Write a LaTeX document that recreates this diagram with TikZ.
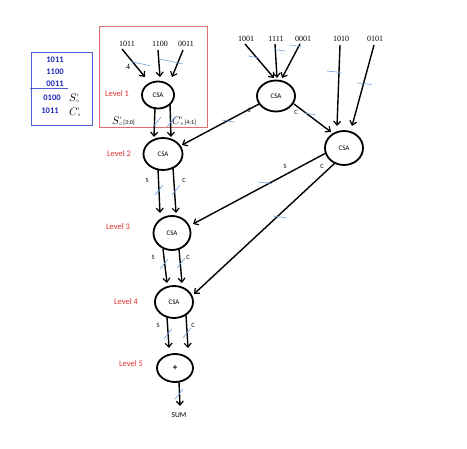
\documentclass[tikz,border=0pt]{standalone}
\usepackage{fontspec}
\setmainfont{Liberation Serif}
\newfontfamily\calfont{Carlito}
\usetikzlibrary{arrows.meta,calc,shapes.geometric}
\definecolor{lvlred}{RGB}{228,50,50}
\definecolor{boxred}{RGB}{226,110,110}
\definecolor{boxblue}{RGB}{80,95,215}
\definecolor{numblue}{RGB}{30,40,185}
\definecolor{busblue}{RGB}{110,160,225}
\newcommand{\tinysc}[1]{{\fontsize{4}{4}\selectfont #1}}
\begin{document}
\begin{tikzpicture}[x=1pt,y=-1pt,
  csa/.style={draw,ellipse,line width=1.8pt,inner sep=0pt,font=\calfont\fontsize{7}{7}\selectfont},
  num/.style={font=\fontsize{8}{8}\selectfont,inner sep=0pt},
  bnum/.style={font=\calfont\bfseries\fontsize{8.5}{9}\selectfont,text=numblue,inner sep=0pt},
  sym/.style={font=\fontsize{11}{11}\selectfont,inner sep=0pt,anchor=base west},
  arr/.style={line width=1.4pt,-{Straight Barb[length=4pt,width=7pt,line width=1.2pt]}},
  lbl/.style={font=\calfont\fontsize{6.5}{7}\selectfont,inner sep=0pt},
  lvl/.style={font=\calfont\fontsize{8.5}{9}\selectfont,text=lvlred,inner sep=0pt},
  bus/.style={draw=busblue,line width=0.6pt},
]
\useasboundingbox[fill=white] (0,0) rectangle (467,449);

% boxes
\draw[boxred,line width=0.7pt] (99,26) rectangle (207,127);
\draw[boxblue,line width=0.7pt] (31,52) rectangle (92,125);
\draw[boxblue,line width=0.7pt] (30,88) -- (68,88);

% blue box contents
\node[bnum] (b1) at (55,60) {1011};
\node[bnum] (b2) at (55,72) {1100};
\node[bnum] (b3) at (55,84) {0011};
\node[bnum] (b4) at (52,98) {0100};
\node[bnum] (b5) at (50,111) {1011};
\node[sym] (bs) at (69,101.5) {$S$\raisebox{5pt}{\tinysc{1}}\kern-2pt\raisebox{-1pt}{\tinysc{0}}};
\node[sym] (bc) at (69,116) {$C$\raisebox{5pt}{\tinysc{1}}\kern-2pt\raisebox{-1pt}{\tinysc{0}}};

% CSA nodes
\node[csa,minimum width=32pt,minimum height=27pt] (csa1) at (158,95) {CSA};
\node[csa,minimum width=38pt,minimum height=31pt] (csa2) at (276,96) {CSA};
\node[csa,minimum width=38pt,minimum height=34pt] (csa3) at (344,148) {CSA};
\node[csa,minimum width=39pt,minimum height=32pt] (csa4) at (163,154) {CSA};
\node[csa,minimum width=37pt,minimum height=34pt] (csa5) at (172,233) {CSA};
\node[csa,minimum width=38pt,minimum height=32pt] (csa6) at (174,302) {CSA};
\node[csa,minimum width=36pt,minimum height=28pt,font=\calfont\bfseries\fontsize{9}{9}\selectfont] (plus) at (175,368) {+};
\node[font=\calfont\fontsize{7.5}{8}\selectfont,inner sep=0pt] (sum) at (179,415) {SUM};

% inputs
\node[num] (i1) at (127,44) {1011};
\node[num] (i2) at (160,44) {1100};
\node[num] (i3) at (186,44) {0011};
\node[num] (i4) at (246,39) {1001};
\node[num] (i5) at (276,39) {1111};
\node[num] (i6) at (303,39) {0001};
\node[num] (i7) at (341,39) {1010};
\node[num] (i8) at (375,39) {0101};
\node[num] (w4) at (128,67) {4};

% level labels
\node[lvl] (l1) at (117,94) {Level 1};
\node[lvl] (l2) at (119,154) {Level 2};
\node[lvl] (l3) at (118,227) {Level 3};
\node[lvl] (l4) at (126,302) {Level 4};
\node[lvl] (l5) at (131,364) {Level 5};

% S C labels under CSA1
\node[sym] (s01) at (112,125) {$S$\raisebox{5pt}{\tinysc{1}}\kern-2pt\raisebox{-1pt}{\tinysc{0}}\,{\calfont\fontsize{6}{6}\selectfont[3:0]}};
\node[sym] (c01) at (172,125) {$C$\raisebox{5pt}{\tinysc{1}}\kern-2pt\raisebox{-1pt}{\tinysc{0}}\,{\calfont\fontsize{6}{6}\selectfont[4:1]}};

% arrows into CSA1
\draw[arr] ($(i1)+(-5,5)$) -- ($(csa1)+(-13,-18)$);
\draw[arr] ($(i2)+(-2,6)$) -- ($(csa1)+(2,-18)$);
\draw[arr] ($(i3)+(-3,6)$) -- ($(csa1)+(14,-18)$);
% CSA1 -> CSA4
\draw[arr] ($(csa1)+(-3,12)$) -- ($(csa4)+(-9,-17)$);
\draw[arr] ($(csa1)+(12,9)$) -- ($(csa4)+(8,-17)$);
% into CSA2
\draw[arr] ($(i4)+(-1,5)$) -- ($(csa2)+(-2,-18)$);
\draw[arr] ($(i5)+(-1,5)$) -- ($(csa2)+(1,-18)$);
\draw[arr] ($(i6)+(-3,5)$) -- ($(csa2)+(6,-18)$);
% CSA2 outputs
\draw[arr] ($(csa2)+(-17,8)$) -- ($(csa4)+(19,-9)$);
\draw[arr] ($(csa2)+(18,8)$) -- ($(csa3)+(-13,-16)$);
% into CSA3
\draw[arr] ($(i7)+(-1,6)$) -- ($(csa3)+(-7,-22)$);
\draw[arr] ($(i8)+(-1,6)$) -- ($(csa3)+(8,-22)$);
% CSA3 outputs
\draw[arr] ($(csa3)+(-18,5)$) -- ($(csa5)+(21,-9)$);
\draw[arr] ($(csa3)+(-9,15)$) -- ($(csa6)+(20,-8)$);
% CSA4 -> CSA5
\draw[arr] ($(csa4)+(-5,15)$) -- ($(csa5)+(-12,-20)$);
\draw[arr] ($(csa4)+(10,14)$) -- ($(csa5)+(4,-20)$);
% CSA5 -> CSA6
\draw[arr] ($(csa5)+(-9,16)$) -- ($(csa6)+(-7,-19)$);
\draw[arr] ($(csa5)+(7,16)$) -- ($(csa6)+(8,-19)$);
% CSA6 -> plus
\draw[arr] ($(csa6)+(-7,15)$) -- ($(plus)+(-6,-20)$);
\draw[arr] ($(csa6)+(12,13)$) -- ($(plus)+(13,-20)$);
% plus -> sum
\draw[arr] ($(plus)+(4,14)$) -- ($(sum)+(1,-9)$);

% S / C labels
\node[lbl] (t1) at (249,110) {S};
\node[lbl] (t2) at (296,112) {C};
\node[lbl] (t3) at (285,166) {S};
\node[lbl] (t4) at (322,166) {C};
\node[lbl] (t5) at (147,180) {S};
\node[lbl] (t6) at (184,180) {C};
\node[lbl] (t7) at (153,257) {S};
\node[lbl] (t8) at (188,257) {C};
\node[lbl] (t9) at (158,325) {S};
\node[lbl] (t10) at (193,325) {C};

% bus width marks
\draw[bus] (131,61.7) -- (150,65.7);
\draw[bus] (160,59) -- (183,64);
\draw[bus] (248,56) -- (259,58);
\draw[bus] (274,49.5) -- (285,51);
\draw[bus] (290,45) -- (301,46.5);
\draw[bus] (327,71) -- (341,72.5);
\draw[bus] (357,83) -- (372,84.5);
\draw[bus] (222,120) -- (234,122);
\draw[bus] (304,113) -- (316,115);
\draw[bus] (258,182) -- (272,183.5);
\draw[bus] (273,216) -- (287,218);
\foreach \p in {(157,122),(171,122),(159,190),(176,190),(164,264),(181,263),(168,334),(187,333),(179,394)}
  \draw[bus] \p ++(-4,5) -- ++(8,-10);
\end{tikzpicture}
\end{document}
